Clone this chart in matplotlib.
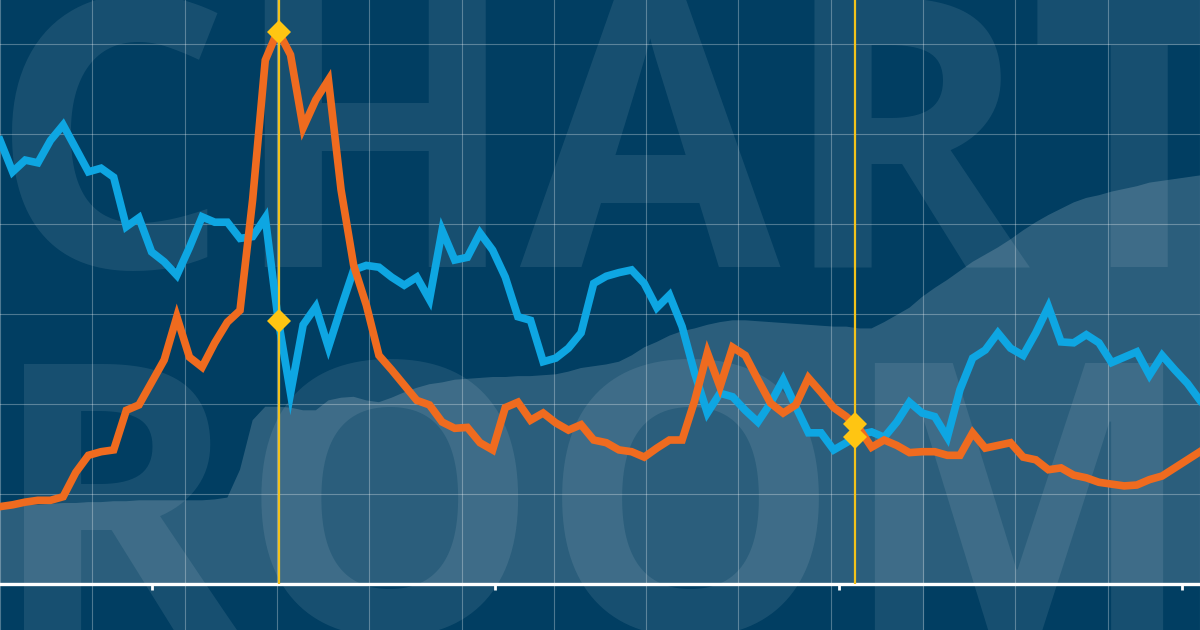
import numpy as np
import matplotlib
matplotlib.use("Agg")
import matplotlib.pyplot as plt

# ---------------- data ----------------
blue_series = [49.3, 45.8, 47.1, 46.8, 49.3, 51.0, 48.4, 45.8, 46.2, 45.2,
               39.7, 40.7, 36.9, 35.8, 34.3, 37.4, 40.8, 40.2, 40.2, 38.4,
               38.6, 40.7, 29.6, 21.2, 28.8, 30.8, 26.3, 30.7, 34.9, 35.4,
               35.2, 34.1, 33.2, 34.1, 31.6, 39.3, 36.0, 36.3, 39.0, 37.1,
               34.1, 29.7, 29.3, 24.7, 25.1, 26.2, 27.9, 33.4, 34.2, 34.6,
               34.9, 33.4, 30.7, 32.1, 28.6, 23.4, 19.0, 21.2, 20.8, 19.3,
               18.0, 20.1, 22.7, 19.7, 16.8, 16.8, 14.9, 15.7, 16.6, 16.9,
               16.3, 18.0, 20.2, 19.0, 18.6, 16.3, 21.6, 25.1, 26.0, 27.9,
               26.2, 25.4, 27.9, 30.8, 26.9, 26.8, 27.7, 26.8, 24.6, 25.2,
               25.8, 23.2, 25.4, 23.8, 22.3, 20.4]

orange_series = [8.6, 8.8, 9.1, 9.3, 9.3, 9.7, 12.4, 14.3, 14.7, 14.9,
                 19.3, 19.9, 22.4, 24.9, 29.7, 25.2, 24.1, 26.8, 29.1, 30.4,
                 42.7, 58.2, 61.5, 58.8, 50.7, 53.8, 56.0, 43.8, 35.4, 31.0,
                 25.4, 23.8, 22.1, 20.4, 19.9, 18.0, 17.3, 17.4, 15.7, 14.9,
                 19.6, 20.2, 18.2, 19.0, 17.9, 17.1, 17.7, 16.0, 15.7, 14.9,
                 14.7, 14.1, 15.1, 16.0, 16.0, 20.4, 25.7, 21.9, 26.3, 25.4,
                 22.7, 20.1, 19.0, 19.9, 22.9, 21.3, 19.6, 18.6, 17.3, 15.2,
                 16.0, 15.4, 14.6, 14.7, 14.7, 14.3, 14.3, 16.8, 15.1, 15.4,
                 15.7, 14.1, 13.8, 12.7, 12.9, 12.1, 11.8, 11.3, 11.1, 10.9,
                 11.0, 11.6, 12.0, 12.9, 13.8, 14.7]

area_series = [8.6, 8.7, 8.8, 8.8, 8.9, 9.0, 9.0, 9.1, 9.1, 9.2,
               9.2, 9.3, 9.3, 9.3, 9.3, 9.3, 9.3, 9.4, 9.6, 12.7,
               18.2, 19.7, 19.7, 19.6, 19.3, 19.3, 20.4, 20.7, 20.8, 20.4,
               20.2, 20.7, 21.3, 21.8, 22.2, 22.4, 22.7, 22.8, 22.9, 23.0,
               23.0, 23.1, 23.1, 23.2, 23.3, 23.6, 24.0, 24.2, 24.4, 24.7,
               25.4, 26.3, 26.9, 27.6, 28.1, 28.4, 28.8, 29.1, 29.3, 29.3,
               29.2, 29.1, 29.0, 28.9, 28.8, 28.7, 28.6, 28.6, 28.4, 28.4,
               29.1, 29.9, 30.7, 31.9, 32.9, 33.8, 34.8, 35.8, 36.6, 37.4,
               38.3, 39.3, 40.2, 41.0, 41.7, 42.4, 42.9, 43.2, 43.6, 43.9,
               44.2, 44.6, 44.8, 45.0, 45.2, 45.4]

tick_positions = [12.0, 39.2, 66.4, 93.6]
event_x = [22.05, 67.65]
gridline_values = [10, 20, 30, 40, 50, 60]
bg_words = ["CHART", "ROOM"]

# ---------------- styling ----------------
BG = "#013e62"
BLUE = "#0ea6e2"
ORANGE = "#ef6b1f"
YELLOW = "#f2c21b"
DIAMOND = "#ffc512"

x = np.arange(len(blue_series))
xmax = x[-1]

fig = plt.figure(figsize=(12, 6.3), dpi=100)
fig.patch.set_facecolor(BG)
ax = fig.add_axes([0, 0, 1, 1])
ax.set_facecolor(BG)
ax.set_xlim(0, xmax)
ax.set_ylim(-5.11, 64.89)

# background words
ax.text(-0.008, 1 - 267 / 630, bg_words[0], transform=ax.transAxes,
        fontsize=272, family="Open Sans", fontweight="bold",
        color="white", alpha=0.09, ha="left", va="baseline", zorder=1)
ax.text(-0.008, -0.005, bg_words[1], transform=ax.transAxes,
        fontsize=272, family="Open Sans", fontweight="bold",
        color="white", alpha=0.09, ha="left", va="baseline", zorder=1)

# area
ax.fill_between(x, 0, area_series, color="white", alpha=0.17, lw=0, zorder=2)

# grid
for gx in np.linspace(0, xmax, 14):
    ax.axvline(gx, color="white", alpha=0.3, lw=0.8, zorder=3)
for gy in gridline_values:
    ax.axhline(gy, color="white", alpha=0.3, lw=0.8, zorder=3)

# axis at zero
for s in ["top", "left", "right"]:
    ax.spines[s].set_visible(False)
ax.spines["bottom"].set_position(("data", 0))
ax.spines["bottom"].set_color("white")
ax.spines["bottom"].set_linewidth(2.4)
ax.spines["bottom"].set_zorder(5)
ax.set_xticks(tick_positions)
ax.set_yticks([])
ax.tick_params(axis="x", direction="out", length=4, width=2, color="white",
               labelbottom=False)

# series
ax.plot(x, blue_series, color=BLUE, lw=5.5, solid_joinstyle="miter", zorder=6)
ax.plot(x, orange_series, color=ORANGE, lw=5.5, solid_joinstyle="miter", zorder=7)

# event lines and markers
ax.vlines(event_x, 0, 64.89, color=YELLOW, lw=1.6, zorder=8)
for ex in event_x:
    ys = [np.interp(ex, x, orange_series), np.interp(ex, x, blue_series)]
    ax.plot([ex, ex], ys, ls="none", marker="D", ms=12, color=DIAMOND,
            mew=0, zorder=9)

fig.savefig("out.png", dpi=100, facecolor=BG)
